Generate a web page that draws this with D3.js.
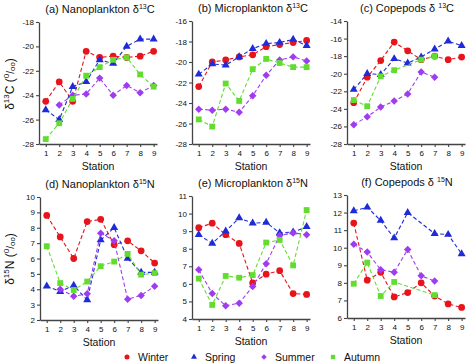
<!DOCTYPE html>
<html>
<head>
<meta charset="utf-8">
<script src="https://cdn.jsdelivr.net/npm/d3@7"></script>
<style>
  body { margin: 0; background: #fff; }
  svg { display: block; font-family: "Liberation Sans", Arial, sans-serif; }
</style>
</head>
<body>
<div id="chart"></div>
<script>
// Stations along the transect
const stations = [1, 2, 3, 4, 5, 6, 7, 8, 9];
const seasons = ["Winter", "Spring", "Summer", "Autumn"];
const seasonColors = ["#e8141c", "#1f2bd6", "#a03cf0", "#62dd2f"];

// Rows: Winter, Spring, Summer, Autumn (null = no sample)
const nanoC = [
    [-24.5, -22.9, -24.5, -20.4, -20.9, -20.8, -20.9, -20.8, -20.4],
    [-25.2, -26.0, -23.3, -22.9, -21.1, -21.4, -20.0, -19.4, -19.4],
    [null, -24.8, -24.0, -23.9, -22.6, -24.0, -23.2, -23.8, -23.2],
    [-27.6, -26.3, -24.3, -22.4, -21.7, -21.1, -20.9, -22.3, -23.3]
];
const microC = [
    [-22.4, -20.0, -19.8, -19.5, -19.3, -18.5, -18.3, -18.1, -17.9],
    [-21.2, -20.2, -20.3, -19.5, -18.7, -18.2, -18.1, -17.8, -18.4],
    [-24.6, -24.7, -24.6, -24.9, -23.3, -21.3, -19.8, -19.5, -19.9],
    [-25.6, -26.3, -22.1, -23.8, -20.7, -19.7, -20.1, -20.5, -20.5]
];
const copeC = [
    [-23.3, -20.4, -18.5, -16.4, -17.4, -18.4, -18.0, -18.4, -18.1],
    [-21.8, -20.0, -20.1, -18.3, -18.8, -18.1, -17.2, -16.3, -16.8],
    [-25.8, -24.9, -23.8, -23.1, -22.3, -19.8, -20.4, null, null],
    [-23.0, -23.7, -20.3, -19.6, null, -18.4, -18.0, null, null]
];
const nanoN = [
    [8.8, 7.4, 6.0, 8.4, 8.55, 6.9, 7.15, 6.5, 5.7],
    [4.2, 3.85, 4.25, 3.3, 7.2, 8.0, 6.0, 5.1, 5.1],
    [null, 4.0, 3.55, 3.7, 7.65, 7.15, 3.35, 3.6, 4.2],
    [6.8, 4.4, 3.95, 4.5, 5.5, 5.8, 6.3, 4.95, 5.05]
];
const microN = [
    [9.2, 9.45, 8.8, 8.3, 6.05, 6.55, 6.75, 5.45, 5.4],
    [8.8, 8.3, 9.0, 9.75, 9.45, 9.5, 8.9, 8.95, 9.25],
    [6.8, 5.45, 4.75, 4.9, 5.85, 7.15, 8.75, 8.9, 8.8],
    [6.3, 4.8, 6.45, 6.35, 6.5, 8.35, 8.5, 7.05, 10.2]
];
const copeN = [
    [11.4, 8.15, 8.6, 7.2, 7.45, 8.0, 7.25, 6.8, 6.6],
    [12.1, 12.3, 11.55, 10.55, 12.0, null, 10.8, 10.75, 9.65],
    [10.2, 9.75, 8.75, 8.6, 9.9, 8.4, 8.1, null, null],
    [7.95, 9.15, 7.25, 8.05, null, null, 7.3, null, null]
];

// Tick values for each panel
const ticksNanoC = [-28, -26, -24, -22, -20, -18];
const ticksMicroC = [-28, -26, -24, -22, -20, -18, -16];
const ticksCopeC = [-28, -26, -24, -22, -20, -18, -16, -14];
const ticksNanoN = [2, 3, 4, 5, 6, 7, 8, 9, 10];
const ticksMicroN = [4, 5, 6, 7, 8, 9, 10, 11];
const ticksCopeN = [6, 7, 8, 9, 10, 11, 12, 13];

const width = 474, height = 364;

const svg = d3.select("#chart")
    .append("svg")
    .attr("width", width)
    .attr("height", height);

// Panel layout
const panels = [
    {label: "(a) Nanoplankton δ", iso: "13", el: "C", data: nanoC, ticks: ticksNanoC, x0: 39, cx: 100, top: 22, bottom: 144},
    {label: "(b) Microplankton δ", iso: "13", el: "C", data: microC, ticks: ticksMicroC, x0: 192, cx: 253, top: 21, bottom: 144},
    {label: "(c) Copepods δ ", iso: "13", el: "C", data: copeC, ticks: ticksCopeC, x0: 347, cx: 407, top: 21, bottom: 144},
    {label: "(d) Nanoplankton δ", iso: "15", el: "N", data: nanoN, ticks: ticksNanoN, x0: 40, cx: 100, top: 197, bottom: 320},
    {label: "(e) Microplankton δ", iso: "15", el: "N", data: microN, ticks: ticksMicroN, x0: 192, cx: 253, top: 196, bottom: 319},
    {label: "(f) Copepods δ ", iso: "15", el: "N", data: copeN, ticks: ticksCopeN, x0: 347, cx: 407, top: 195, bottom: 318}
];

const symbols = [d3.symbolCircle, d3.symbolTriangle, d3.symbolSquare, d3.symbolSquare];
const symbolSizes = [36, 28, 28, 34];
const symbolRotate = [0, 0, 45, 0];

panels.forEach(function(p) {
    const x = d3.scaleLinear()
        .domain([0.5, 9.25])
        .range([p.x0, p.x0 + 118]);

    const y = d3.scaleLinear()
        .domain([d3.min(p.ticks), d3.max(p.ticks)])
        .range([p.bottom, p.top]);

    // Axes (plain hyphen minus, integer labels)
    const gy = svg.append("g")
        .attr("transform", `translate(${p.x0},0)`)
        .call(d3.axisLeft(y).tickValues(p.ticks).tickFormat(d => String(d))
            .tickSize(3).tickSizeOuter(0).tickPadding(2));

    const gx = svg.append("g")
        .attr("transform", `translate(0,${p.bottom})`)
        .call(d3.axisBottom(x).tickValues(stations).tickFormat(d => String(d))
            .tickSize(3).tickSizeOuter(0).tickPadding(3));

    [gx, gy].forEach(function(g) {
        g.select(".domain").attr("stroke", "#444").attr("stroke-width", 1.3);
        g.selectAll(".tick line").attr("stroke", "#444").attr("stroke-width", 1.1);
        g.selectAll(".tick text").attr("fill", "#111").style("font-size", "8px");
    });

    // Title
    const title = svg.append("text")
        .attr("x", p.cx)
        .attr("y", p.top - 9)
        .attr("text-anchor", "middle")
        .style("font-size", "11px")
        .attr("fill", "#111");
    title.append("tspan").text(p.label);
    title.append("tspan").attr("dy", -4).style("font-size", "7px").text(p.iso);
    title.append("tspan").attr("dy", 4).text(p.el);

    // Station label
    svg.append("text")
        .attr("x", p.x0 + 59)
        .attr("y", p.bottom + 26)
        .attr("text-anchor", "middle")
        .style("font-size", "10.5px")
        .attr("fill", "#111")
        .text("Station");

    // Series: dashed line then markers
    p.data.forEach(function(values, i) {
        const pts = stations.map((s, j) => ({s: s, v: values[j]}))
            .filter(d => d.v !== null);

        const line = d3.line()
            .x(d => x(d.s))
            .y(d => y(d.v));

        svg.append("path")
            .datum(pts)
            .attr("fill", "none")
            .attr("stroke", seasonColors[i])
            .attr("stroke-width", 1.1)
            .attr("stroke-dasharray", "4,2.5")
            .attr("d", line);

        svg.selectAll(null)
            .data(pts)
            .enter()
            .append("path")
            .attr("d", d3.symbol().type(symbols[i]).size(symbolSizes[i]))
            .attr("transform", d => `translate(${x(d.s)},${y(d.v)}) rotate(${symbolRotate[i]})`)
            .attr("fill", seasonColors[i]);
    });
});

// Y-axis labels
const yLabels = [{iso: "13", el: "C", cy: 84}, {iso: "15", el: "N", cy: 259}];
yLabels.forEach(function(l) {
    const t = svg.append("text")
        .attr("transform", `translate(14,${l.cy}) rotate(-90)`)
        .attr("text-anchor", "middle")
        .style("font-size", "12px")
        .attr("fill", "#111");
    t.append("tspan").text("δ");
    t.append("tspan").attr("dy", -5).style("font-size", "8px").text(l.iso);
    t.append("tspan").attr("dy", 5).text(l.el + " (");
    t.append("tspan").attr("dy", -5).style("font-size", "8px").text("0");
    t.append("tspan").attr("dy", 5).style("font-size", "10px").text("/");
    t.append("tspan").attr("dy", 1).style("font-size", "8px").text("oo");
    t.append("tspan").attr("dy", -1).text(")");
});

// Legend
const legendX = [127, 194, 264, 333];
seasons.forEach(function(s, i) {
    svg.append("path")
        .attr("d", d3.symbol().type(symbols[i]).size(symbolSizes[i] * 0.55))
        .attr("transform", `translate(${legendX[i]},357) rotate(${symbolRotate[i]})`)
        .attr("fill", seasonColors[i]);
    svg.append("text")
        .attr("x", legendX[i] + 11)
        .attr("y", 361)
        .style("font-size", "10.5px")
        .attr("fill", "#111")
        .text(s);
});
</script>
</body>
</html>
